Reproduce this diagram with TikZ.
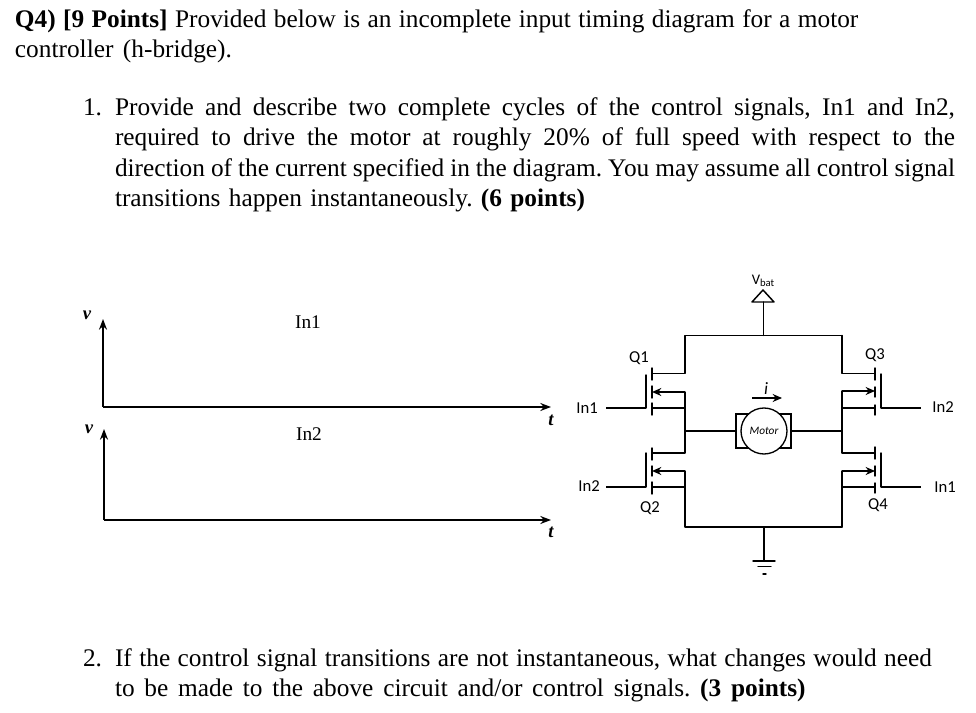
\documentclass[tikz,border=0pt]{standalone}
\usepackage{fontspec}
\setmainfont[WordSpace={0.82,1,1}]{Liberation Serif}
\newfontfamily\cirfont{Carlito}
\usetikzlibrary{arrows.meta}
\frenchspacing
\tolerance=10000
\hbadness=10000
\hfuzz=20pt
\newcommand{\fitline}[2]{\makebox[#1][s]{#2}}
\tikzset{
 wire/.style={line width=1.1pt,line cap=round,line join=round},
 thinwire/.style={line width=0.9pt},
 axis/.style={line width=1.2pt,-{Stealth[length=8pt,width=6pt]}},
 srcarrow/.style={line width=1.1pt,-{Stealth[length=7pt,width=6pt]}},
 body/.style={inner sep=0pt,outer sep=0pt,anchor=north west,align=left,font=\fontsize{19pt}{22.9pt}\selectfont},
 cirlabel/.style={inner sep=0pt,font=\cirfont\fontsize{12.5pt}{14pt}\selectfont},
 plotlabel/.style={inner sep=0pt,font=\fontsize{14.5pt}{16pt}\selectfont},
 varlabel/.style={inner sep=0pt,font=\itshape\bfseries\fontsize{14pt}{16pt}\selectfont}
}
\begin{document}
\begin{tikzpicture}[x=0.75pt,y=-0.75pt]
\useasboundingbox (0,0) rectangle (976,713);
% text
\node[body] (head) at (15,6) {\strut\fitline{632.5pt}{\textbf{Q4) [9 Points]} Provided below is an incomplete input timing diagram for a motor}\\\fitline{162.75pt}{controller (h-bridge).}};
\node[body] (num1) at (83,94) {\strut 1.};
\node[body] (para1) at (115,94) {\strut\fitline{630pt}{Provide and describe two complete cycles of the control signals, In1 and In2,}\\\fitline{630pt}{required to drive the motor at roughly 20\% of full speed with respect to the}\\\fitline{630pt}{direction of the current specified in the diagram. You may assume all control signal}\\\fitline{352.5pt}{transitions happen instantaneously. \textbf{(6 points)}}};
\node[body] (num2) at (83,645) {\strut 2.};
\node[body] (para2) at (115,645) {\strut\fitline{612.75pt}{If the control signal transitions are not instantaneous, what changes would need}\\\fitline{518pt}{to be made to the above circuit and/or control signals. \textbf{(3 points)}}};
% timing axes
\coordinate (o1) at (103,407); \coordinate (y1) at (103,319); \coordinate (x1) at (551,407);
\coordinate (o2) at (104,520); \coordinate (y2) at (104,429); \coordinate (x2) at (551,520);
\draw[axis] (o1) -- (y1);
\draw[axis] (o1) -- (x1);
\draw[axis] (o2) -- (y2);
\draw[axis] (o2) -- (x2);
\node[varlabel] (v1) at (87,315) {v};
\node[varlabel] (v2) at (89,429) {v};
\node[varlabel] (t1) at (551,420) {t};
\node[varlabel] (t2) at (551,532) {t};
\node[plotlabel] (in1p) at (308,322) {In1};
\node[plotlabel] (in2p) at (309,434) {In2};
% supply
\node[cirlabel,font=\cirfont\fontsize{11pt}{12pt}\selectfont] (vbat) at (763,281) {V\raisebox{-1pt}{\fontsize{8pt}{8pt}\selectfont bat}};
\coordinate (tl) at (752,302); \coordinate (tr) at (774,302); \coordinate (ta) at (763,290);
\coordinate (vs) at (763.5,302); \coordinate (vr) at (763.5,335.5);
\coordinate (rl) at (685,335.5); \coordinate (rr) at (842,335.5);
\draw[wire] (tl) -- (ta) -- (tr) -- cycle;
\draw[wire] (vs) -- (vr);
% Q1
\coordinate (d1) at (652,373.5); \coordinate (s1) at (652,392); \coordinate (b1) at (652,408);
\coordinate (d1r) at (685,373.5); \coordinate (s1r) at (685,392); \coordinate (b1r) at (685,408);
\coordinate (ml) at (685,431);
\draw[wire] (ml) -- (s1r);
\draw[wire] (rr) -- (rl) -- (d1r) -- (d1);
\draw[wire] (b1r) -- (b1);
\draw[srcarrow] (s1r) -- (s1);
\draw[wire] (652,368) -- (652,380) (652,386) -- (652,398) (652,403) -- (652,415);
\draw[wire] (646,375) -- (646,408);
\coordinate (g1) at (646,408); \coordinate (g1e) at (606,408);
\draw[thinwire] (g1e) -- (g1);
\node[cirlabel] (in1l) at (587,408) {In1};
\node[cirlabel] (q1) at (639,358) {Q1};
% Q2
\coordinate (d2) at (652,453); \coordinate (s2) at (652,471); \coordinate (b2) at (652,487);
\coordinate (d2r) at (685,453); \coordinate (s2r) at (685,471); \coordinate (b2r) at (685,487);
\coordinate (gl) at (685,527); \coordinate (gr) at (842,527);
\draw[wire] (ml) -- (d2r) -- (d2);
\draw[wire] (s2r) -- (gl) -- (gr);
\draw[wire] (b2r) -- (b2);
\draw[srcarrow] (s2r) -- (s2);
\draw[wire] (652,448) -- (652,460) (652,466) -- (652,476) (652,482) -- (652,494);
\draw[wire] (646,453) -- (646,487);
\coordinate (g2) at (646,487); \coordinate (g2e) at (606,487);
\draw[thinwire] (g2e) -- (g2);
\node[cirlabel] (in2l) at (589,486) {In2};
\node[cirlabel] (q2) at (650,508) {Q2};
% Q3
\coordinate (d3) at (875,373.5); \coordinate (s3) at (875,391); \coordinate (b3) at (875,408);
\coordinate (d3r) at (842,373.5); \coordinate (s3r) at (842,391); \coordinate (b3r) at (842,408);
\coordinate (mr) at (842,431);
\draw[wire] (rr) -- (d3r) -- (d3);
\draw[wire] (s3r) -- (mr);
\draw[wire] (b3r) -- (b3);
\draw[srcarrow] (s3r) -- (s3);
\draw[wire] (875,368) -- (875,380) (875,387) -- (875,397) (875,405) -- (875,415);
\draw[wire] (881,374) -- (881,408);
\coordinate (g3) at (881,408); \coordinate (g3e) at (921,408);
\draw[thinwire] (g3) -- (g3e);
\node[cirlabel] (in2r) at (943,407) {In2};
\node[cirlabel] (q3) at (875,355) {Q3};
% Q4
\coordinate (d4) at (875,453); \coordinate (s4) at (875,471); \coordinate (b4) at (875,487);
\coordinate (d4r) at (842,453); \coordinate (s4r) at (842,471); \coordinate (b4r) at (842,487);
\draw[wire] (mr) -- (d4r) -- (d4);
\draw[wire] (gr) -- (s4r);
\draw[wire] (b4r) -- (b4);
\draw[srcarrow] (s4r) -- (s4);
\draw[wire] (875,447) -- (875,459) (875,466) -- (875,476) (875,483) -- (875,493);
\draw[wire] (881,453) -- (881,487);
\coordinate (g4) at (881,487); \coordinate (g4e) at (921,487);
\draw[thinwire] (g4) -- (g4e);
\node[cirlabel] (in1r) at (945,487) {In1};
\node[cirlabel] (q4) at (878,505) {Q4};
% motor
\draw[line width=0.8pt] (736,414) rectangle (791,448);
\node[draw,circle,line width=1pt,fill=white,minimum size=34.5pt,inner sep=0pt,font=\cirfont\itshape\fontsize{8.5pt}{9pt}\selectfont] (motor) at (764,431) {Motor};
\coordinate (mleft) at (736,431); \coordinate (mright) at (791,431);
\draw[wire] (ml) -- (mleft);
\draw[wire] (mright) -- (mr);
\coordinate (ia) at (752,398); \coordinate (ib) at (782,398);
\draw[line width=1.1pt,-{Stealth[length=7pt,width=6pt]}] (ia) -- (ib);
\node[inner sep=0pt,font=\cirfont\itshape\fontsize{13pt}{14pt}\selectfont] (ilab) at (766,389) {i};
% ground
\coordinate (gs) at (764,527); \coordinate (ge) at (764,561);
\draw[wire] (gs) -- (ge);
\draw[wire] (753,561) -- (775,561);
\draw[wire] (758,566.5) -- (771,566.5);
\draw[wire] (763,574) -- (766,574);
\end{tikzpicture}
\end{document}
